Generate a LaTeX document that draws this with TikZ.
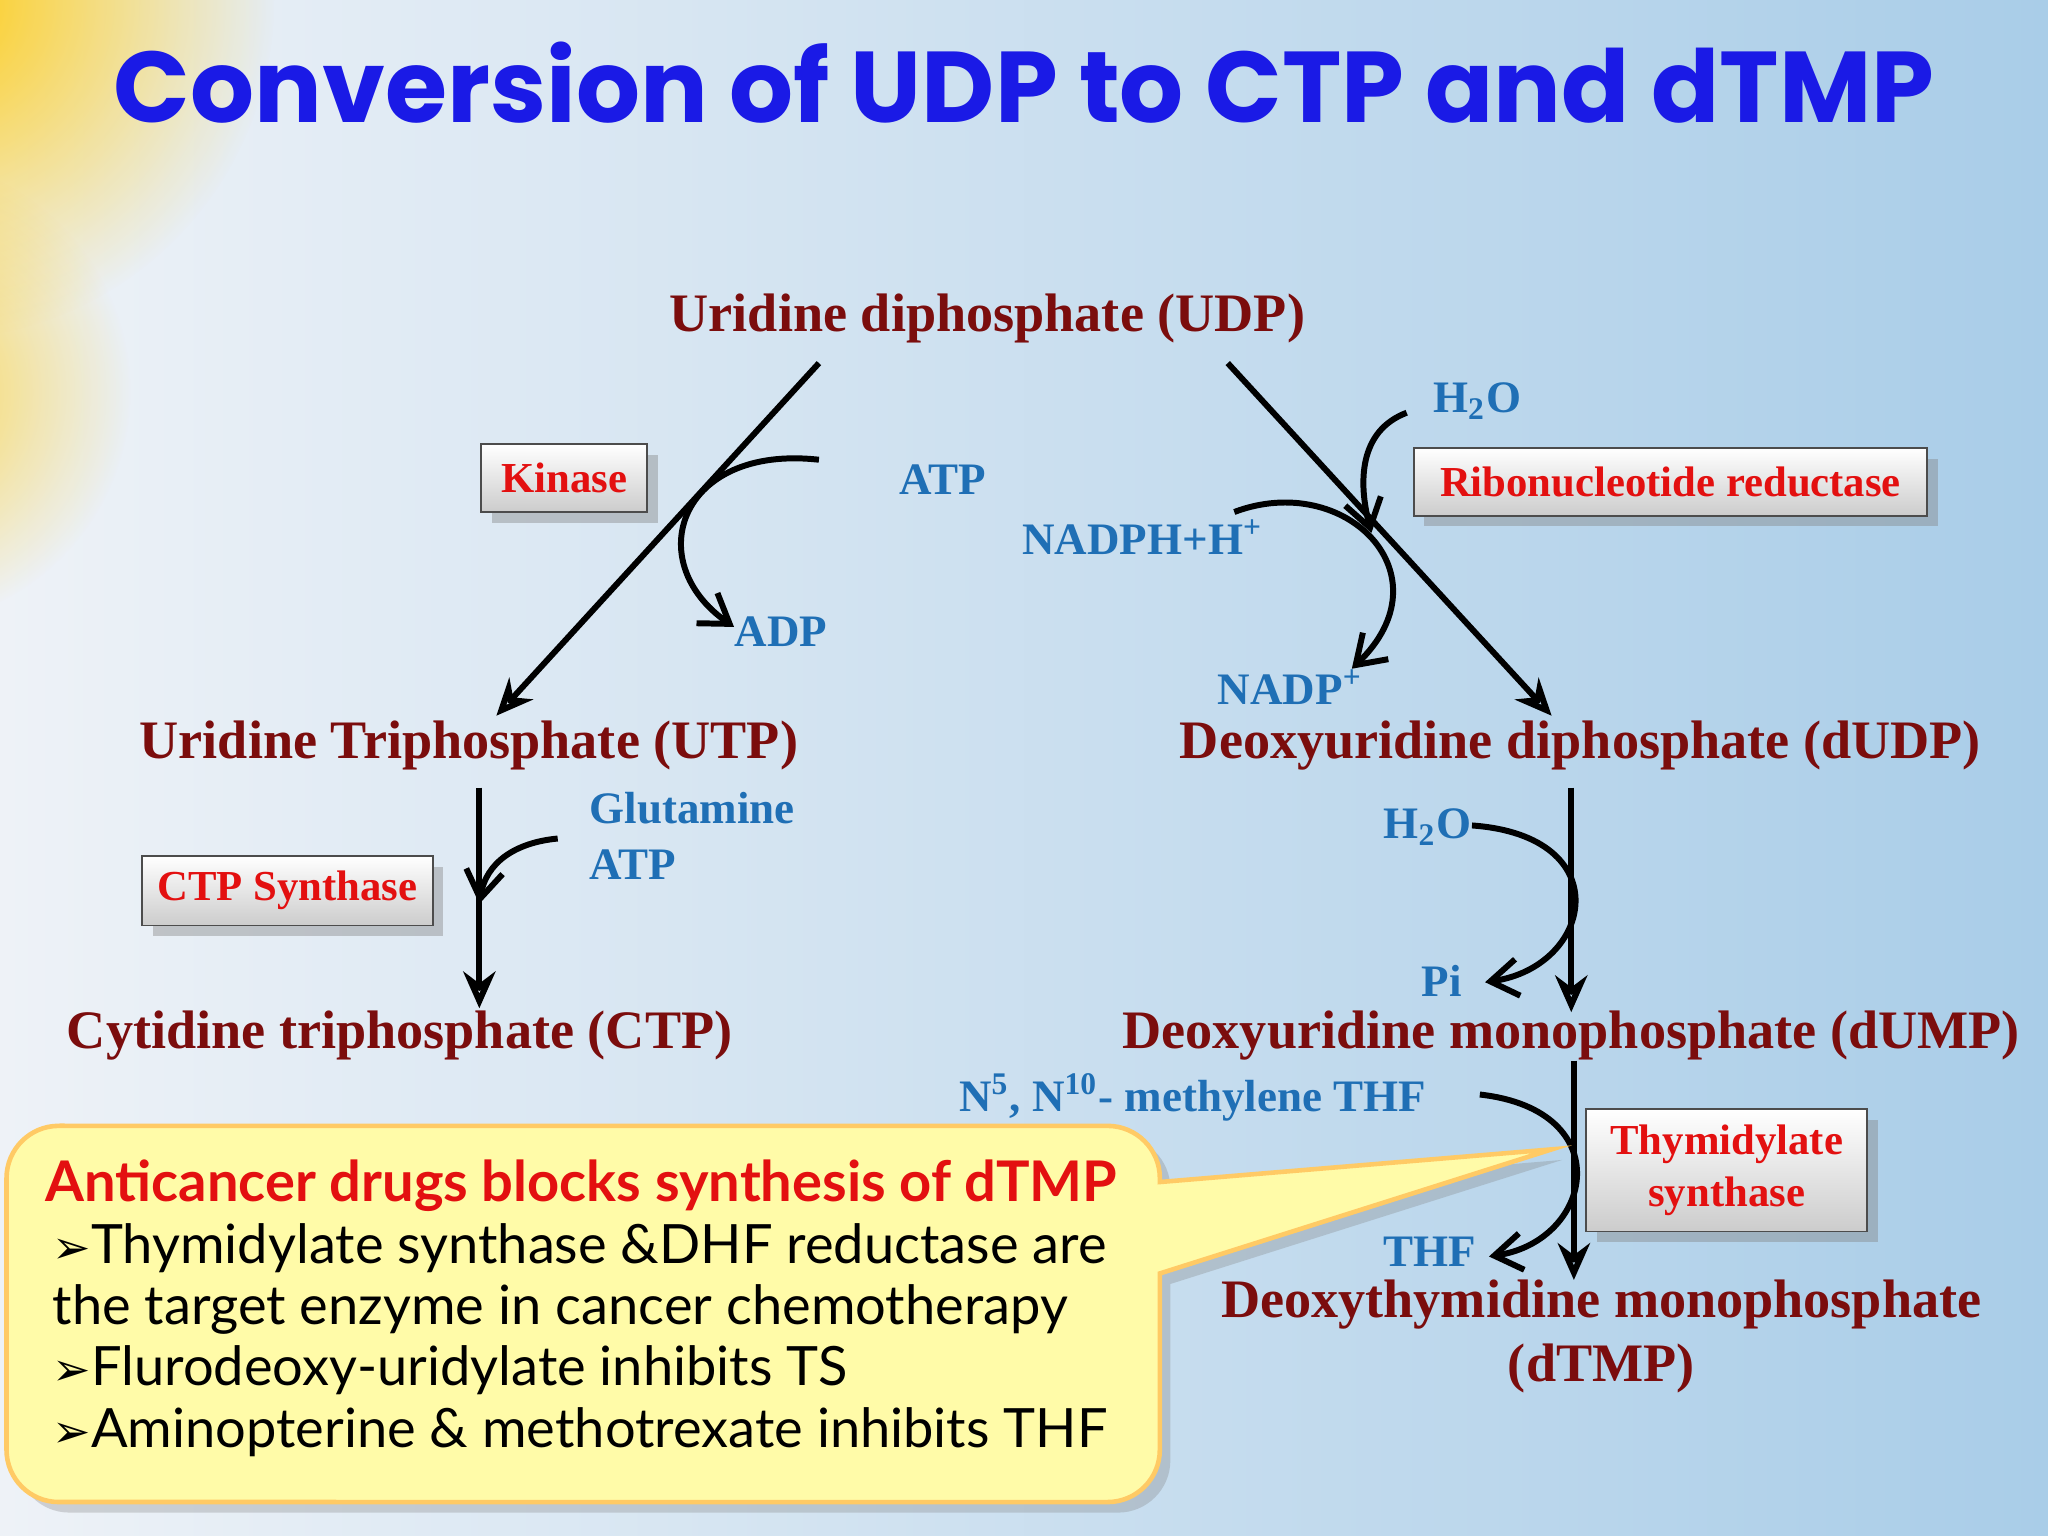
\documentclass[tikz,border=0pt]{standalone}
\usepackage{fontspec}
\setmainfont{Liberation Serif}
\newfontfamily\titlefont{Poppins}
\newfontfamily\callfont{Lato}
\newfontfamily\djfont{DejaVu Sans}
\usetikzlibrary{arrows.meta,shadows,fadings}
\tikzfading[name=myfade, inner color=transparent!0, outer color=transparent!100]
\definecolor{dred}{HTML}{7B0D0D}
\definecolor{lblue}{HTML}{1F6FB5}
\definecolor{ered}{HTML}{E31010}
\definecolor{tblue}{HTML}{1A1AE6}
\definecolor{bgl}{HTML}{EEF2F7}
\definecolor{bgr}{HTML}{A9CDE8}
\definecolor{gold}{HTML}{FFC800}
\definecolor{cally}{HTML}{FFFBA8}
\tikzset{
 comp/.style={font=\bfseries\fontsize{11.8}{14}\selectfont, text=dred},
 cof/.style={font=\bfseries\fontsize{9.8}{12}\selectfont, text=lblue},
 enz/.style={draw=black!70, font=\bfseries\fontsize{9.3}{11.5}\selectfont, text=ered, top color=white, bottom color=black!20, drop shadow={opacity=0.4}, align=center},
 rx/.style={line width=1.3pt, -{Stealth[length=8pt,width=7pt,open]}},
 rxs/.style={line width=1.3pt, -{Straight Barb[length=6pt,width=8pt]}},
 cl/.style={font=\callfont\fontsize{11.8}{14}\selectfont, anchor=base west}
}
\begin{document}
\begin{tikzpicture}[x=0.01cm,y=-0.01cm]
\useasboundingbox (0,0) rectangle (1568,1176);
\shade[left color=bgl, right color=bgr] (0,0) rectangle (1568,1176);
\fill[gold, path fading=myfade, opacity=0.9] (-50,0) circle [radius=2.6cm];
\fill[gold, path fading=myfade, opacity=0.7] (-80,300) circle [radius=1.8cm];
\node[font=\titlefont\bfseries\fontsize{21.9}{26}\selectfont, text=tblue] (title) at (784,63) {Conversion of UDP to CTP and dTMP};

\node[comp] (udp) at (756,244) {Uridine diphosphate (UDP)};
\node[comp] (utp) at (359,571) {Uridine Triphosphate (UTP)};
\node[comp] (dudp) at (1210,571) {Deoxyuridine diphosphate (dUDP)};
\node[comp] (ctp) at (306,793) {Cytidine triphosphate (CTP)};
\node[comp] (dump) at (1203,793) {Deoxyuridine monophosphate (dUMP)};
\node[comp, align=center] (dtmp) at (1226,1023) {Deoxythymidine monophosphate\\(dTMP)};

\node[cof] (atp1) at (722,367) {ATP};
\node[cof] (adp) at (598,484) {ADP};
\node[cof] (nadph) at (875,411) {NADPH+H\textsuperscript{+}};
\node[cof] (nadp) at (988,526) {NADP\textsuperscript{+}};
\node[cof] (h2oa) at (1131,307) {H\textsubscript{2}O};
\node[cof, align=left] (glu) at (530,640) {Glutamine\\ATP};
\node[cof] (h2ob) at (1093,633) {H\textsubscript{2}O};
\node[cof] (pi) at (1104,751) {Pi};
\node[cof] (mthf) at (913,840) {N\textsuperscript{5}, N\textsuperscript{10}- methylene THF};
\node[cof] (thf) at (1095,958) {THF};

\node[enz, minimum width=127*0.01cm, minimum height=52*0.01cm] (kin) at (432,366) {Kinase};
\node[enz, minimum width=393*0.01cm, minimum height=52*0.01cm] (rnr) at (1279,369) {Ribonucleotide reductase};
\node[enz, minimum width=220*0.01cm, minimum height=52*0.01cm] (ctps) at (220,682) {CTP Synthase};
\node[enz, minimum width=215*0.01cm, minimum height=88*0.01cm] (tys) at (1322,896) {Thymidylate\\synthase};

% main arrows
\coordinate (a1s) at (627,278); \coordinate (a1e) at (380,548);
\draw[rx] (a1s) -- (a1e);
\coordinate (a2s) at (940,278); \coordinate (a2e) at (1188,548);
\draw[rx] (a2s) -- (a2e);
\coordinate (a3s) at (367,603); \coordinate (a3e) at (367,772);
\draw[rx] (a3s) -- (a3e);
\coordinate (a4s) at (1203,603); \coordinate (a4e) at (1203,775);
\draw[rx] (a4s) -- (a4e);
\coordinate (a5s) at (1205,812); \coordinate (a5e) at (1205,980);
\draw[rx] (a5s) -- (a5e);

% side curves
\coordinate (c1s) at (627,352); \coordinate (c1e) at (562,480);
\draw[rxs] (c1s) .. controls (520,340) and (490,430) .. (c1e);
\coordinate (c2s) at (1077,316); \coordinate (c2e) at (1050,408);
\draw[rxs] (c2s) .. controls (1040,330) and (1040,370) .. (c2e);
\coordinate (c3s) at (945,392); \coordinate (c3e) at (1035,512);
\draw[rxs] (c3s) .. controls (1030,360) and (1110,440) .. (c3e);
\coordinate (c4s) at (427,642); \coordinate (c4e) at (367,692);
\draw[rxs] (c4s) .. controls (395,645) and (372,660) .. (c4e);
\coordinate (c5s) at (1127,632); \coordinate (c5e) at (1137,752);
\draw[rxs] (c5s) .. controls (1240,640) and (1220,740) .. (c5e);
\coordinate (c6s) at (1133,838); \coordinate (c6e) at (1140,962);
\draw[rxs] (c6s) .. controls (1240,850) and (1220,950) .. (c6e);

% callout
\coordinate (tip) at (1188,880);
\draw[line width=1pt, draw=cally!60!orange, fill=cally, drop shadow={opacity=0.3}]
 (45,862) -- (848,862) arc[start angle=90,end angle=0,radius=0.4cm] -- (888,905) -- (tip) -- (888,975)
 -- (888,1110) arc[start angle=0,end angle=-90,radius=0.4cm] -- (45,1150) arc[start angle=270,end angle=180,radius=0.4cm]
 -- (5,902) arc[start angle=180,end angle=90,radius=0.4cm] -- cycle;
\node[font=\callfont\bfseries\fontsize{12.2}{15}\selectfont, text=ered] (ct) at (445,908) {Anticancer drugs blocks synthesis of dTMP};
\node[cl] (l1) at (28,967) {{\djfont\fontsize{10}{12}\selectfont ➢}Thymidylate synthase \&DHF reductase are};
\node[cl] (l2) at (28,1014) {the target enzyme in cancer chemotherapy};
\node[cl] (l3) at (28,1061) {{\djfont\fontsize{10}{12}\selectfont ➢}Flurodeoxy-uridylate inhibits TS};
\node[cl] (l4) at (28,1108) {{\djfont\fontsize{10}{12}\selectfont ➢}Aminopterine \& methotrexate inhibits THF};
\end{tikzpicture}
\end{document}
